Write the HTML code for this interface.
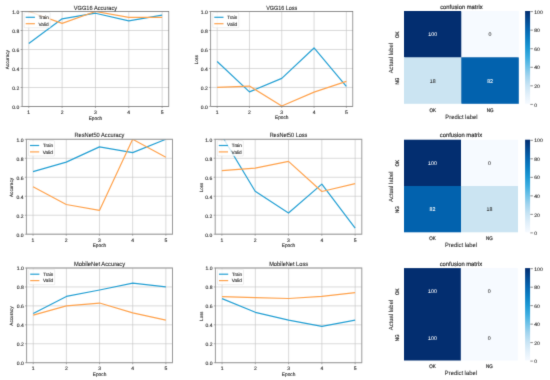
<!DOCTYPE html>
<html><head><meta charset="utf-8"><style>
html,body{margin:0;padding:0;background:#fff;}
body{width:550px;height:380px;overflow:hidden;}
svg{display:block;text-rendering:geometricPrecision;font-family:"Liberation Sans",sans-serif;}
</style></head><body>
<svg width="550" height="380" viewBox="0 0 550 380">
<defs><linearGradient id="bluesg" x1="0" y1="1" x2="0" y2="0"><stop offset="0" stop-color="#f6faff"/><stop offset="0.1" stop-color="#e2f0fa"/><stop offset="0.2" stop-color="#c8e4f4"/><stop offset="0.3" stop-color="#a2d4ee"/><stop offset="0.4" stop-color="#6ec2e8"/><stop offset="0.5" stop-color="#3cade0"/><stop offset="0.6" stop-color="#1b98d4"/><stop offset="0.7" stop-color="#0a7fc4"/><stop offset="0.8" stop-color="#0465b0"/><stop offset="0.9" stop-color="#034a92"/><stop offset="1" stop-color="#032e70"/></linearGradient><filter id="soft" x="0" y="0" width="550" height="380" filterUnits="userSpaceOnUse" primitiveUnits="userSpaceOnUse" color-interpolation-filters="sRGB"><feConvolveMatrix order="3" kernelMatrix="0.0113 0.0838 0.0113 0.0838 0.6193 0.0838 0.0113 0.0838 0.0113" divisor="1" edgeMode="duplicate" preserveAlpha="true"/></filter></defs>
<g filter="url(#soft)">
<rect width="550" height="380" fill="#fff"/>
<clipPath id="c22_11"><rect x="22.10" y="11.50" width="146.70" height="95.00"/></clipPath>
<line x1="28.77" y1="11.50" x2="28.77" y2="106.50" stroke="#c6c6c6" stroke-width="0.65"/>
<line x1="62.11" y1="11.50" x2="62.11" y2="106.50" stroke="#c6c6c6" stroke-width="0.65"/>
<line x1="95.45" y1="11.50" x2="95.45" y2="106.50" stroke="#c6c6c6" stroke-width="0.65"/>
<line x1="128.79" y1="11.50" x2="128.79" y2="106.50" stroke="#c6c6c6" stroke-width="0.65"/>
<line x1="162.13" y1="11.50" x2="162.13" y2="106.50" stroke="#c6c6c6" stroke-width="0.65"/>
<line x1="22.10" y1="106.50" x2="168.80" y2="106.50" stroke="#c6c6c6" stroke-width="0.65"/>
<line x1="22.10" y1="87.50" x2="168.80" y2="87.50" stroke="#c6c6c6" stroke-width="0.65"/>
<line x1="22.10" y1="68.50" x2="168.80" y2="68.50" stroke="#c6c6c6" stroke-width="0.65"/>
<line x1="22.10" y1="49.50" x2="168.80" y2="49.50" stroke="#c6c6c6" stroke-width="0.65"/>
<line x1="22.10" y1="30.50" x2="168.80" y2="30.50" stroke="#c6c6c6" stroke-width="0.65"/>
<line x1="22.10" y1="11.50" x2="168.80" y2="11.50" stroke="#c6c6c6" stroke-width="0.65"/>
<polyline points="28.77,43.51 62.11,18.81 95.45,13.21 128.79,20.81 162.13,15.20" fill="none" stroke="#24a0d4" stroke-width="1.2" stroke-linejoin="round" stroke-linecap="butt" clip-path="url(#c22_11)"/>
<polyline points="28.77,11.50 62.11,23.38 95.45,11.50 128.79,17.44 162.13,17.44" fill="none" stroke="#ffa24c" stroke-width="1.2" stroke-linejoin="round" stroke-linecap="butt" clip-path="url(#c22_11)"/>
<rect x="22.10" y="11.50" width="146.70" height="95.00" fill="none" stroke="#707070" stroke-width="0.70"/>
<line x1="28.77" y1="106.50" x2="28.77" y2="108.10" stroke="#777777" stroke-width="0.60"/>
<text x="28.77" y="113.90" font-size="5.02" text-anchor="middle" textLength="2.80" lengthAdjust="spacingAndGlyphs" fill="#2a2a2a" stroke="#2a2a2a" stroke-width="0.12">1</text>
<line x1="62.11" y1="106.50" x2="62.11" y2="108.10" stroke="#777777" stroke-width="0.60"/>
<text x="62.11" y="113.90" font-size="5.02" text-anchor="middle" textLength="2.80" lengthAdjust="spacingAndGlyphs" fill="#2a2a2a" stroke="#2a2a2a" stroke-width="0.12">2</text>
<line x1="95.45" y1="106.50" x2="95.45" y2="108.10" stroke="#777777" stroke-width="0.60"/>
<text x="95.45" y="113.90" font-size="5.02" text-anchor="middle" textLength="2.80" lengthAdjust="spacingAndGlyphs" fill="#2a2a2a" stroke="#2a2a2a" stroke-width="0.12">3</text>
<line x1="128.79" y1="106.50" x2="128.79" y2="108.10" stroke="#777777" stroke-width="0.60"/>
<text x="128.79" y="113.90" font-size="5.02" text-anchor="middle" textLength="2.80" lengthAdjust="spacingAndGlyphs" fill="#2a2a2a" stroke="#2a2a2a" stroke-width="0.12">4</text>
<line x1="162.13" y1="106.50" x2="162.13" y2="108.10" stroke="#777777" stroke-width="0.60"/>
<text x="162.13" y="113.90" font-size="5.02" text-anchor="middle" textLength="2.80" lengthAdjust="spacingAndGlyphs" fill="#2a2a2a" stroke="#2a2a2a" stroke-width="0.12">5</text>
<line x1="20.50" y1="106.50" x2="22.10" y2="106.50" stroke="#777777" stroke-width="0.60"/>
<text x="19.20" y="108.80" font-size="5.02" text-anchor="end" textLength="7.00" lengthAdjust="spacingAndGlyphs" fill="#2a2a2a" stroke="#2a2a2a" stroke-width="0.12">0.0</text>
<line x1="20.50" y1="87.50" x2="22.10" y2="87.50" stroke="#777777" stroke-width="0.60"/>
<text x="19.20" y="89.80" font-size="5.02" text-anchor="end" textLength="7.00" lengthAdjust="spacingAndGlyphs" fill="#2a2a2a" stroke="#2a2a2a" stroke-width="0.12">0.2</text>
<line x1="20.50" y1="68.50" x2="22.10" y2="68.50" stroke="#777777" stroke-width="0.60"/>
<text x="19.20" y="70.80" font-size="5.02" text-anchor="end" textLength="7.00" lengthAdjust="spacingAndGlyphs" fill="#2a2a2a" stroke="#2a2a2a" stroke-width="0.12">0.4</text>
<line x1="20.50" y1="49.50" x2="22.10" y2="49.50" stroke="#777777" stroke-width="0.60"/>
<text x="19.20" y="51.80" font-size="5.02" text-anchor="end" textLength="7.00" lengthAdjust="spacingAndGlyphs" fill="#2a2a2a" stroke="#2a2a2a" stroke-width="0.12">0.6</text>
<line x1="20.50" y1="30.50" x2="22.10" y2="30.50" stroke="#777777" stroke-width="0.60"/>
<text x="19.20" y="32.80" font-size="5.02" text-anchor="end" textLength="7.00" lengthAdjust="spacingAndGlyphs" fill="#2a2a2a" stroke="#2a2a2a" stroke-width="0.12">0.8</text>
<line x1="20.50" y1="11.50" x2="22.10" y2="11.50" stroke="#777777" stroke-width="0.60"/>
<text x="19.20" y="13.80" font-size="5.02" text-anchor="end" textLength="7.00" lengthAdjust="spacingAndGlyphs" fill="#2a2a2a" stroke="#2a2a2a" stroke-width="0.12">1.0</text>
<text x="95.45" y="9.60" font-size="6.08" text-anchor="middle" textLength="43.21" lengthAdjust="spacingAndGlyphs" fill="#2a2a2a" stroke="#2a2a2a" stroke-width="0.11">VGG16 Accuracy</text>
<text x="95.45" y="119.50" font-size="5.02" text-anchor="middle" textLength="13.47" lengthAdjust="spacingAndGlyphs" fill="#2a2a2a" stroke="#2a2a2a" stroke-width="0.12">Epoch</text>
<text x="8.60" y="59.70" font-size="4.79" text-anchor="middle" textLength="19.17" lengthAdjust="spacingAndGlyphs" fill="#2a2a2a" stroke="#2a2a2a" stroke-width="0.12" transform="rotate(-90 8.60 59.70)">Accuracy</text>
<rect x="24.20" y="12.50" width="26.00" height="15.30" rx="0.8" fill="#ffffff" fill-opacity="0.8" stroke="#dcdcdc" stroke-width="0.5"/>
<line x1="25.70" y1="17.30" x2="34.90" y2="17.30" stroke="#24a0d4" stroke-width="1.20"/>
<line x1="25.70" y1="23.70" x2="34.90" y2="23.70" stroke="#ffa24c" stroke-width="1.20"/>
<text x="38.70" y="19.10" font-size="4.79" text-anchor="start" textLength="10.08" lengthAdjust="spacingAndGlyphs" fill="#2a2a2a" stroke="#2a2a2a" stroke-width="0.12">Train</text>
<text x="38.50" y="25.50" font-size="4.79" text-anchor="start" textLength="10.12" lengthAdjust="spacingAndGlyphs" fill="#2a2a2a" stroke="#2a2a2a" stroke-width="0.12">Valid</text>
<clipPath id="c210_11"><rect x="210.70" y="11.50" width="142.10" height="94.90"/></clipPath>
<line x1="217.16" y1="11.50" x2="217.16" y2="106.40" stroke="#c6c6c6" stroke-width="0.65"/>
<line x1="249.45" y1="11.50" x2="249.45" y2="106.40" stroke="#c6c6c6" stroke-width="0.65"/>
<line x1="281.75" y1="11.50" x2="281.75" y2="106.40" stroke="#c6c6c6" stroke-width="0.65"/>
<line x1="314.05" y1="11.50" x2="314.05" y2="106.40" stroke="#c6c6c6" stroke-width="0.65"/>
<line x1="346.34" y1="11.50" x2="346.34" y2="106.40" stroke="#c6c6c6" stroke-width="0.65"/>
<line x1="210.70" y1="106.40" x2="352.80" y2="106.40" stroke="#c6c6c6" stroke-width="0.65"/>
<line x1="210.70" y1="87.42" x2="352.80" y2="87.42" stroke="#c6c6c6" stroke-width="0.65"/>
<line x1="210.70" y1="68.44" x2="352.80" y2="68.44" stroke="#c6c6c6" stroke-width="0.65"/>
<line x1="210.70" y1="49.46" x2="352.80" y2="49.46" stroke="#c6c6c6" stroke-width="0.65"/>
<line x1="210.70" y1="30.48" x2="352.80" y2="30.48" stroke="#c6c6c6" stroke-width="0.65"/>
<line x1="210.70" y1="11.50" x2="352.80" y2="11.50" stroke="#c6c6c6" stroke-width="0.65"/>
<polyline points="217.16,61.51 249.45,91.88 281.75,78.40 314.05,47.94 346.34,86.47" fill="none" stroke="#24a0d4" stroke-width="1.2" stroke-linejoin="round" stroke-linecap="butt" clip-path="url(#c210_11)"/>
<polyline points="217.16,87.42 249.45,86.09 281.75,106.02 314.05,92.17 346.34,81.44" fill="none" stroke="#ffa24c" stroke-width="1.2" stroke-linejoin="round" stroke-linecap="butt" clip-path="url(#c210_11)"/>
<rect x="210.70" y="11.50" width="142.10" height="94.90" fill="none" stroke="#707070" stroke-width="0.70"/>
<line x1="217.16" y1="106.40" x2="217.16" y2="108.00" stroke="#777777" stroke-width="0.60"/>
<text x="217.16" y="113.80" font-size="5.02" text-anchor="middle" textLength="2.80" lengthAdjust="spacingAndGlyphs" fill="#2a2a2a" stroke="#2a2a2a" stroke-width="0.12">1</text>
<line x1="249.45" y1="106.40" x2="249.45" y2="108.00" stroke="#777777" stroke-width="0.60"/>
<text x="249.45" y="113.80" font-size="5.02" text-anchor="middle" textLength="2.80" lengthAdjust="spacingAndGlyphs" fill="#2a2a2a" stroke="#2a2a2a" stroke-width="0.12">2</text>
<line x1="281.75" y1="106.40" x2="281.75" y2="108.00" stroke="#777777" stroke-width="0.60"/>
<text x="281.75" y="113.80" font-size="5.02" text-anchor="middle" textLength="2.80" lengthAdjust="spacingAndGlyphs" fill="#2a2a2a" stroke="#2a2a2a" stroke-width="0.12">3</text>
<line x1="314.05" y1="106.40" x2="314.05" y2="108.00" stroke="#777777" stroke-width="0.60"/>
<text x="314.05" y="113.80" font-size="5.02" text-anchor="middle" textLength="2.80" lengthAdjust="spacingAndGlyphs" fill="#2a2a2a" stroke="#2a2a2a" stroke-width="0.12">4</text>
<line x1="346.34" y1="106.40" x2="346.34" y2="108.00" stroke="#777777" stroke-width="0.60"/>
<text x="346.34" y="113.80" font-size="5.02" text-anchor="middle" textLength="2.80" lengthAdjust="spacingAndGlyphs" fill="#2a2a2a" stroke="#2a2a2a" stroke-width="0.12">5</text>
<line x1="209.10" y1="106.40" x2="210.70" y2="106.40" stroke="#777777" stroke-width="0.60"/>
<text x="207.80" y="108.70" font-size="5.02" text-anchor="end" textLength="7.00" lengthAdjust="spacingAndGlyphs" fill="#2a2a2a" stroke="#2a2a2a" stroke-width="0.12">0.0</text>
<line x1="209.10" y1="87.42" x2="210.70" y2="87.42" stroke="#777777" stroke-width="0.60"/>
<text x="207.80" y="89.72" font-size="5.02" text-anchor="end" textLength="7.00" lengthAdjust="spacingAndGlyphs" fill="#2a2a2a" stroke="#2a2a2a" stroke-width="0.12">0.2</text>
<line x1="209.10" y1="68.44" x2="210.70" y2="68.44" stroke="#777777" stroke-width="0.60"/>
<text x="207.80" y="70.74" font-size="5.02" text-anchor="end" textLength="7.00" lengthAdjust="spacingAndGlyphs" fill="#2a2a2a" stroke="#2a2a2a" stroke-width="0.12">0.4</text>
<line x1="209.10" y1="49.46" x2="210.70" y2="49.46" stroke="#777777" stroke-width="0.60"/>
<text x="207.80" y="51.76" font-size="5.02" text-anchor="end" textLength="7.00" lengthAdjust="spacingAndGlyphs" fill="#2a2a2a" stroke="#2a2a2a" stroke-width="0.12">0.6</text>
<line x1="209.10" y1="30.48" x2="210.70" y2="30.48" stroke="#777777" stroke-width="0.60"/>
<text x="207.80" y="32.78" font-size="5.02" text-anchor="end" textLength="7.00" lengthAdjust="spacingAndGlyphs" fill="#2a2a2a" stroke="#2a2a2a" stroke-width="0.12">0.8</text>
<line x1="209.10" y1="11.50" x2="210.70" y2="11.50" stroke="#777777" stroke-width="0.60"/>
<text x="207.80" y="13.80" font-size="5.02" text-anchor="end" textLength="7.00" lengthAdjust="spacingAndGlyphs" fill="#2a2a2a" stroke="#2a2a2a" stroke-width="0.12">1.0</text>
<text x="281.75" y="9.60" font-size="6.08" text-anchor="middle" textLength="30.99" lengthAdjust="spacingAndGlyphs" fill="#2a2a2a" stroke="#2a2a2a" stroke-width="0.11">VGG16 Loss</text>
<text x="281.75" y="119.40" font-size="5.02" text-anchor="middle" textLength="13.47" lengthAdjust="spacingAndGlyphs" fill="#2a2a2a" stroke="#2a2a2a" stroke-width="0.12">Epoch</text>
<text x="198.20" y="59.65" font-size="4.79" text-anchor="middle" textLength="9.21" lengthAdjust="spacingAndGlyphs" fill="#2a2a2a" stroke="#2a2a2a" stroke-width="0.12" transform="rotate(-90 198.20 59.65)">Loss</text>
<rect x="212.80" y="12.50" width="26.00" height="15.30" rx="0.8" fill="#ffffff" fill-opacity="0.8" stroke="#dcdcdc" stroke-width="0.5"/>
<line x1="214.30" y1="17.30" x2="223.50" y2="17.30" stroke="#24a0d4" stroke-width="1.20"/>
<line x1="214.30" y1="23.70" x2="223.50" y2="23.70" stroke="#ffa24c" stroke-width="1.20"/>
<text x="227.30" y="19.10" font-size="4.79" text-anchor="start" textLength="10.08" lengthAdjust="spacingAndGlyphs" fill="#2a2a2a" stroke="#2a2a2a" stroke-width="0.12">Train</text>
<text x="227.10" y="25.50" font-size="4.79" text-anchor="start" textLength="10.12" lengthAdjust="spacingAndGlyphs" fill="#2a2a2a" stroke="#2a2a2a" stroke-width="0.12">Valid</text>
<rect x="405.00" y="12.00" width="112.80" height="90.80" fill="#7f9cc0"/>
<rect x="404.00" y="11.00" width="57.40" height="46.40" fill="#032e70"/>
<rect x="461.40" y="11.00" width="57.40" height="46.40" fill="#f6faff"/>
<rect x="404.00" y="57.40" width="57.40" height="46.40" fill="#cbe4f2"/>
<rect x="461.40" y="57.40" width="57.40" height="46.40" fill="#0262ae"/>
<text x="432.70" y="36.40" font-size="5.24" text-anchor="middle" textLength="8.78" lengthAdjust="spacingAndGlyphs" fill="#ffffff" stroke="#ffffff" stroke-width="0.05">100</text>
<text x="490.10" y="36.40" font-size="5.24" text-anchor="middle" textLength="2.93" lengthAdjust="spacingAndGlyphs" fill="#262626" stroke="#262626" stroke-width="0.05">0</text>
<text x="432.70" y="82.80" font-size="5.24" text-anchor="middle" textLength="5.85" lengthAdjust="spacingAndGlyphs" fill="#262626" stroke="#262626" stroke-width="0.05">18</text>
<text x="490.10" y="82.80" font-size="5.24" text-anchor="middle" textLength="5.85" lengthAdjust="spacingAndGlyphs" fill="#ffffff" stroke="#ffffff" stroke-width="0.05">82</text>
<text x="461.40" y="8.65" font-size="5.96" text-anchor="middle" textLength="42.44" lengthAdjust="spacingAndGlyphs" fill="#2a2a2a" stroke="#2a2a2a" stroke-width="0.16">confusion matrix</text>
<text x="432.70" y="111.60" font-size="5.13" text-anchor="middle" textLength="6.49" lengthAdjust="spacingAndGlyphs" fill="#2a2a2a" stroke="#2a2a2a" stroke-width="0.20">OK</text>
<text x="490.10" y="111.60" font-size="5.13" text-anchor="middle" textLength="6.85" lengthAdjust="spacingAndGlyphs" fill="#2a2a2a" stroke="#2a2a2a" stroke-width="0.20">NG</text>
<text x="461.40" y="118.60" font-size="6.03" text-anchor="middle" textLength="32.14" lengthAdjust="spacingAndGlyphs" fill="#2a2a2a" stroke="#2a2a2a" stroke-width="0.08">Predict label</text>
<text x="398.80" y="34.70" font-size="5.13" text-anchor="middle" textLength="6.49" lengthAdjust="spacingAndGlyphs" fill="#2a2a2a" stroke="#2a2a2a" stroke-width="0.20" transform="rotate(-90 398.80 34.70)">OK</text>
<text x="398.80" y="81.10" font-size="5.13" text-anchor="middle" textLength="6.85" lengthAdjust="spacingAndGlyphs" fill="#2a2a2a" stroke="#2a2a2a" stroke-width="0.20" transform="rotate(-90 398.80 81.10)">NG</text>
<text x="392.80" y="58.10" font-size="6.03" text-anchor="middle" textLength="30.52" lengthAdjust="spacingAndGlyphs" fill="#2a2a2a" stroke="#2a2a2a" stroke-width="0.06" transform="rotate(-90 392.80 58.10)">Actual label</text>
<rect x="525.10" y="11.00" width="5.00" height="92.80" fill="url(#bluesg)"/>
<line x1="530.30" y1="104.40" x2="532.90" y2="104.40" stroke="#444444" stroke-width="0.60"/>
<text x="534.30" y="106.55" font-size="5.07" text-anchor="start" textLength="2.83" lengthAdjust="spacingAndGlyphs" fill="#2a2a2a" stroke="#2a2a2a" stroke-width="0.10">0</text>
<line x1="530.30" y1="85.84" x2="532.90" y2="85.84" stroke="#444444" stroke-width="0.60"/>
<text x="534.30" y="87.99" font-size="5.07" text-anchor="start" textLength="5.66" lengthAdjust="spacingAndGlyphs" fill="#2a2a2a" stroke="#2a2a2a" stroke-width="0.10">20</text>
<line x1="530.30" y1="67.28" x2="532.90" y2="67.28" stroke="#444444" stroke-width="0.60"/>
<text x="534.30" y="69.43" font-size="5.07" text-anchor="start" textLength="5.66" lengthAdjust="spacingAndGlyphs" fill="#2a2a2a" stroke="#2a2a2a" stroke-width="0.10">40</text>
<line x1="530.30" y1="48.72" x2="532.90" y2="48.72" stroke="#444444" stroke-width="0.60"/>
<text x="534.30" y="50.87" font-size="5.07" text-anchor="start" textLength="5.66" lengthAdjust="spacingAndGlyphs" fill="#2a2a2a" stroke="#2a2a2a" stroke-width="0.10">60</text>
<line x1="530.30" y1="30.16" x2="532.90" y2="30.16" stroke="#444444" stroke-width="0.60"/>
<text x="534.30" y="32.31" font-size="5.07" text-anchor="start" textLength="5.66" lengthAdjust="spacingAndGlyphs" fill="#2a2a2a" stroke="#2a2a2a" stroke-width="0.10">80</text>
<line x1="530.30" y1="11.60" x2="532.90" y2="11.60" stroke="#444444" stroke-width="0.60"/>
<text x="534.30" y="13.75" font-size="5.07" text-anchor="start" textLength="8.49" lengthAdjust="spacingAndGlyphs" fill="#2a2a2a" stroke="#2a2a2a" stroke-width="0.10">100</text>
<clipPath id="c26_139"><rect x="26.40" y="139.30" width="146.10" height="94.90"/></clipPath>
<line x1="33.04" y1="139.30" x2="33.04" y2="234.20" stroke="#c6c6c6" stroke-width="0.65"/>
<line x1="66.25" y1="139.30" x2="66.25" y2="234.20" stroke="#c6c6c6" stroke-width="0.65"/>
<line x1="99.45" y1="139.30" x2="99.45" y2="234.20" stroke="#c6c6c6" stroke-width="0.65"/>
<line x1="132.65" y1="139.30" x2="132.65" y2="234.20" stroke="#c6c6c6" stroke-width="0.65"/>
<line x1="165.86" y1="139.30" x2="165.86" y2="234.20" stroke="#c6c6c6" stroke-width="0.65"/>
<line x1="26.40" y1="234.20" x2="172.50" y2="234.20" stroke="#c6c6c6" stroke-width="0.65"/>
<line x1="26.40" y1="215.22" x2="172.50" y2="215.22" stroke="#c6c6c6" stroke-width="0.65"/>
<line x1="26.40" y1="196.24" x2="172.50" y2="196.24" stroke="#c6c6c6" stroke-width="0.65"/>
<line x1="26.40" y1="177.26" x2="172.50" y2="177.26" stroke="#c6c6c6" stroke-width="0.65"/>
<line x1="26.40" y1="158.28" x2="172.50" y2="158.28" stroke="#c6c6c6" stroke-width="0.65"/>
<line x1="26.40" y1="139.30" x2="172.50" y2="139.30" stroke="#c6c6c6" stroke-width="0.65"/>
<polyline points="33.04,171.57 66.25,162.17 99.45,146.89 132.65,152.59 165.86,139.30" fill="none" stroke="#24a0d4" stroke-width="1.2" stroke-linejoin="round" stroke-linecap="butt" clip-path="url(#c26_139)"/>
<polyline points="33.04,186.75 66.25,204.50 99.45,210.38 132.65,139.30 165.86,157.33" fill="none" stroke="#ffa24c" stroke-width="1.2" stroke-linejoin="round" stroke-linecap="butt" clip-path="url(#c26_139)"/>
<rect x="26.40" y="139.30" width="146.10" height="94.90" fill="none" stroke="#9a9a9a" stroke-width="1.00"/>
<line x1="33.04" y1="234.20" x2="33.04" y2="235.80" stroke="#777777" stroke-width="0.60"/>
<text x="33.04" y="241.60" font-size="5.02" text-anchor="middle" textLength="2.80" lengthAdjust="spacingAndGlyphs" fill="#2a2a2a" stroke="#2a2a2a" stroke-width="0.12">1</text>
<line x1="66.25" y1="234.20" x2="66.25" y2="235.80" stroke="#777777" stroke-width="0.60"/>
<text x="66.25" y="241.60" font-size="5.02" text-anchor="middle" textLength="2.80" lengthAdjust="spacingAndGlyphs" fill="#2a2a2a" stroke="#2a2a2a" stroke-width="0.12">2</text>
<line x1="99.45" y1="234.20" x2="99.45" y2="235.80" stroke="#777777" stroke-width="0.60"/>
<text x="99.45" y="241.60" font-size="5.02" text-anchor="middle" textLength="2.80" lengthAdjust="spacingAndGlyphs" fill="#2a2a2a" stroke="#2a2a2a" stroke-width="0.12">3</text>
<line x1="132.65" y1="234.20" x2="132.65" y2="235.80" stroke="#777777" stroke-width="0.60"/>
<text x="132.65" y="241.60" font-size="5.02" text-anchor="middle" textLength="2.80" lengthAdjust="spacingAndGlyphs" fill="#2a2a2a" stroke="#2a2a2a" stroke-width="0.12">4</text>
<line x1="165.86" y1="234.20" x2="165.86" y2="235.80" stroke="#777777" stroke-width="0.60"/>
<text x="165.86" y="241.60" font-size="5.02" text-anchor="middle" textLength="2.80" lengthAdjust="spacingAndGlyphs" fill="#2a2a2a" stroke="#2a2a2a" stroke-width="0.12">5</text>
<line x1="24.80" y1="234.20" x2="26.40" y2="234.20" stroke="#777777" stroke-width="0.60"/>
<text x="23.50" y="236.50" font-size="5.02" text-anchor="end" textLength="7.00" lengthAdjust="spacingAndGlyphs" fill="#2a2a2a" stroke="#2a2a2a" stroke-width="0.12">0.0</text>
<line x1="24.80" y1="215.22" x2="26.40" y2="215.22" stroke="#777777" stroke-width="0.60"/>
<text x="23.50" y="217.52" font-size="5.02" text-anchor="end" textLength="7.00" lengthAdjust="spacingAndGlyphs" fill="#2a2a2a" stroke="#2a2a2a" stroke-width="0.12">0.2</text>
<line x1="24.80" y1="196.24" x2="26.40" y2="196.24" stroke="#777777" stroke-width="0.60"/>
<text x="23.50" y="198.54" font-size="5.02" text-anchor="end" textLength="7.00" lengthAdjust="spacingAndGlyphs" fill="#2a2a2a" stroke="#2a2a2a" stroke-width="0.12">0.4</text>
<line x1="24.80" y1="177.26" x2="26.40" y2="177.26" stroke="#777777" stroke-width="0.60"/>
<text x="23.50" y="179.56" font-size="5.02" text-anchor="end" textLength="7.00" lengthAdjust="spacingAndGlyphs" fill="#2a2a2a" stroke="#2a2a2a" stroke-width="0.12">0.6</text>
<line x1="24.80" y1="158.28" x2="26.40" y2="158.28" stroke="#777777" stroke-width="0.60"/>
<text x="23.50" y="160.58" font-size="5.02" text-anchor="end" textLength="7.00" lengthAdjust="spacingAndGlyphs" fill="#2a2a2a" stroke="#2a2a2a" stroke-width="0.12">0.8</text>
<line x1="24.80" y1="139.30" x2="26.40" y2="139.30" stroke="#777777" stroke-width="0.60"/>
<text x="23.50" y="141.60" font-size="5.02" text-anchor="end" textLength="7.00" lengthAdjust="spacingAndGlyphs" fill="#2a2a2a" stroke="#2a2a2a" stroke-width="0.12">1.0</text>
<text x="99.45" y="137.40" font-size="6.08" text-anchor="middle" textLength="49.94" lengthAdjust="spacingAndGlyphs" fill="#2a2a2a" stroke="#2a2a2a" stroke-width="0.11">ResNet50 Accuracy</text>
<text x="99.45" y="247.20" font-size="5.02" text-anchor="middle" textLength="13.47" lengthAdjust="spacingAndGlyphs" fill="#2a2a2a" stroke="#2a2a2a" stroke-width="0.12">Epoch</text>
<text x="12.90" y="187.45" font-size="4.79" text-anchor="middle" textLength="19.17" lengthAdjust="spacingAndGlyphs" fill="#2a2a2a" stroke="#2a2a2a" stroke-width="0.12" transform="rotate(-90 12.90 187.45)">Accuracy</text>
<rect x="28.50" y="140.70" width="26.00" height="15.30" rx="0.8" fill="#ffffff" fill-opacity="0.8" stroke="#dcdcdc" stroke-width="0.5"/>
<line x1="30.00" y1="145.50" x2="39.20" y2="145.50" stroke="#24a0d4" stroke-width="1.20"/>
<line x1="30.00" y1="151.90" x2="39.20" y2="151.90" stroke="#ffa24c" stroke-width="1.20"/>
<text x="43.00" y="147.30" font-size="4.79" text-anchor="start" textLength="10.08" lengthAdjust="spacingAndGlyphs" fill="#2a2a2a" stroke="#2a2a2a" stroke-width="0.12">Train</text>
<text x="42.80" y="153.70" font-size="4.79" text-anchor="start" textLength="10.12" lengthAdjust="spacingAndGlyphs" fill="#2a2a2a" stroke="#2a2a2a" stroke-width="0.12">Valid</text>
<clipPath id="c215_139"><rect x="215.20" y="139.30" width="146.60" height="94.90"/></clipPath>
<line x1="221.86" y1="139.30" x2="221.86" y2="234.20" stroke="#c6c6c6" stroke-width="0.65"/>
<line x1="255.18" y1="139.30" x2="255.18" y2="234.20" stroke="#c6c6c6" stroke-width="0.65"/>
<line x1="288.50" y1="139.30" x2="288.50" y2="234.20" stroke="#c6c6c6" stroke-width="0.65"/>
<line x1="321.82" y1="139.30" x2="321.82" y2="234.20" stroke="#c6c6c6" stroke-width="0.65"/>
<line x1="355.14" y1="139.30" x2="355.14" y2="234.20" stroke="#c6c6c6" stroke-width="0.65"/>
<line x1="215.20" y1="234.20" x2="361.80" y2="234.20" stroke="#c6c6c6" stroke-width="0.65"/>
<line x1="215.20" y1="215.22" x2="361.80" y2="215.22" stroke="#c6c6c6" stroke-width="0.65"/>
<line x1="215.20" y1="196.24" x2="361.80" y2="196.24" stroke="#c6c6c6" stroke-width="0.65"/>
<line x1="215.20" y1="177.26" x2="361.80" y2="177.26" stroke="#c6c6c6" stroke-width="0.65"/>
<line x1="215.20" y1="158.28" x2="361.80" y2="158.28" stroke="#c6c6c6" stroke-width="0.65"/>
<line x1="215.20" y1="139.30" x2="361.80" y2="139.30" stroke="#c6c6c6" stroke-width="0.65"/>
<polyline points="221.86,135.79 255.18,191.21 288.50,213.04 321.82,184.09 355.14,228.13" fill="none" stroke="#24a0d4" stroke-width="1.2" stroke-linejoin="round" stroke-linecap="butt" clip-path="url(#c215_139)"/>
<polyline points="221.86,170.71 255.18,168.15 288.50,161.32 321.82,191.50 355.14,183.62" fill="none" stroke="#ffa24c" stroke-width="1.2" stroke-linejoin="round" stroke-linecap="butt" clip-path="url(#c215_139)"/>
<rect x="215.20" y="139.30" width="146.60" height="94.90" fill="none" stroke="#9a9a9a" stroke-width="1.00"/>
<line x1="221.86" y1="234.20" x2="221.86" y2="235.80" stroke="#777777" stroke-width="0.60"/>
<text x="221.86" y="241.60" font-size="5.02" text-anchor="middle" textLength="2.80" lengthAdjust="spacingAndGlyphs" fill="#2a2a2a" stroke="#2a2a2a" stroke-width="0.12">1</text>
<line x1="255.18" y1="234.20" x2="255.18" y2="235.80" stroke="#777777" stroke-width="0.60"/>
<text x="255.18" y="241.60" font-size="5.02" text-anchor="middle" textLength="2.80" lengthAdjust="spacingAndGlyphs" fill="#2a2a2a" stroke="#2a2a2a" stroke-width="0.12">2</text>
<line x1="288.50" y1="234.20" x2="288.50" y2="235.80" stroke="#777777" stroke-width="0.60"/>
<text x="288.50" y="241.60" font-size="5.02" text-anchor="middle" textLength="2.80" lengthAdjust="spacingAndGlyphs" fill="#2a2a2a" stroke="#2a2a2a" stroke-width="0.12">3</text>
<line x1="321.82" y1="234.20" x2="321.82" y2="235.80" stroke="#777777" stroke-width="0.60"/>
<text x="321.82" y="241.60" font-size="5.02" text-anchor="middle" textLength="2.80" lengthAdjust="spacingAndGlyphs" fill="#2a2a2a" stroke="#2a2a2a" stroke-width="0.12">4</text>
<line x1="355.14" y1="234.20" x2="355.14" y2="235.80" stroke="#777777" stroke-width="0.60"/>
<text x="355.14" y="241.60" font-size="5.02" text-anchor="middle" textLength="2.80" lengthAdjust="spacingAndGlyphs" fill="#2a2a2a" stroke="#2a2a2a" stroke-width="0.12">5</text>
<line x1="213.60" y1="234.20" x2="215.20" y2="234.20" stroke="#777777" stroke-width="0.60"/>
<text x="212.30" y="236.50" font-size="5.02" text-anchor="end" textLength="7.00" lengthAdjust="spacingAndGlyphs" fill="#2a2a2a" stroke="#2a2a2a" stroke-width="0.12">0.0</text>
<line x1="213.60" y1="215.22" x2="215.20" y2="215.22" stroke="#777777" stroke-width="0.60"/>
<text x="212.30" y="217.52" font-size="5.02" text-anchor="end" textLength="7.00" lengthAdjust="spacingAndGlyphs" fill="#2a2a2a" stroke="#2a2a2a" stroke-width="0.12">0.2</text>
<line x1="213.60" y1="196.24" x2="215.20" y2="196.24" stroke="#777777" stroke-width="0.60"/>
<text x="212.30" y="198.54" font-size="5.02" text-anchor="end" textLength="7.00" lengthAdjust="spacingAndGlyphs" fill="#2a2a2a" stroke="#2a2a2a" stroke-width="0.12">0.4</text>
<line x1="213.60" y1="177.26" x2="215.20" y2="177.26" stroke="#777777" stroke-width="0.60"/>
<text x="212.30" y="179.56" font-size="5.02" text-anchor="end" textLength="7.00" lengthAdjust="spacingAndGlyphs" fill="#2a2a2a" stroke="#2a2a2a" stroke-width="0.12">0.6</text>
<line x1="213.60" y1="158.28" x2="215.20" y2="158.28" stroke="#777777" stroke-width="0.60"/>
<text x="212.30" y="160.58" font-size="5.02" text-anchor="end" textLength="7.00" lengthAdjust="spacingAndGlyphs" fill="#2a2a2a" stroke="#2a2a2a" stroke-width="0.12">0.8</text>
<line x1="213.60" y1="139.30" x2="215.20" y2="139.30" stroke="#777777" stroke-width="0.60"/>
<text x="212.30" y="141.60" font-size="5.02" text-anchor="end" textLength="7.00" lengthAdjust="spacingAndGlyphs" fill="#2a2a2a" stroke="#2a2a2a" stroke-width="0.12">1.0</text>
<text x="288.50" y="137.40" font-size="6.08" text-anchor="middle" textLength="37.72" lengthAdjust="spacingAndGlyphs" fill="#2a2a2a" stroke="#2a2a2a" stroke-width="0.11">ResNet50 Loss</text>
<text x="288.50" y="247.20" font-size="5.02" text-anchor="middle" textLength="13.47" lengthAdjust="spacingAndGlyphs" fill="#2a2a2a" stroke="#2a2a2a" stroke-width="0.12">Epoch</text>
<text x="202.70" y="187.45" font-size="4.79" text-anchor="middle" textLength="9.21" lengthAdjust="spacingAndGlyphs" fill="#2a2a2a" stroke="#2a2a2a" stroke-width="0.12" transform="rotate(-90 202.70 187.45)">Loss</text>
<rect x="217.30" y="140.70" width="26.00" height="15.30" rx="0.8" fill="#ffffff" fill-opacity="0.8" stroke="#dcdcdc" stroke-width="0.5"/>
<line x1="218.80" y1="145.50" x2="228.00" y2="145.50" stroke="#24a0d4" stroke-width="1.20"/>
<line x1="218.80" y1="151.90" x2="228.00" y2="151.90" stroke="#ffa24c" stroke-width="1.20"/>
<text x="231.80" y="147.30" font-size="4.79" text-anchor="start" textLength="10.08" lengthAdjust="spacingAndGlyphs" fill="#2a2a2a" stroke="#2a2a2a" stroke-width="0.12">Train</text>
<text x="231.60" y="153.70" font-size="4.79" text-anchor="start" textLength="10.12" lengthAdjust="spacingAndGlyphs" fill="#2a2a2a" stroke="#2a2a2a" stroke-width="0.12">Valid</text>
<rect x="405.00" y="140.70" width="112.00" height="90.60" fill="#7f9cc0"/>
<rect x="404.00" y="139.70" width="57.00" height="46.30" fill="#032e70"/>
<rect x="461.00" y="139.70" width="57.00" height="46.30" fill="#f6faff"/>
<rect x="404.00" y="186.00" width="57.00" height="46.30" fill="#0262ae"/>
<rect x="461.00" y="186.00" width="57.00" height="46.30" fill="#cbe4f2"/>
<text x="432.50" y="165.05" font-size="5.24" text-anchor="middle" textLength="8.78" lengthAdjust="spacingAndGlyphs" fill="#ffffff" stroke="#ffffff" stroke-width="0.05">100</text>
<text x="489.50" y="165.05" font-size="5.24" text-anchor="middle" textLength="2.93" lengthAdjust="spacingAndGlyphs" fill="#262626" stroke="#262626" stroke-width="0.05">0</text>
<text x="432.50" y="211.35" font-size="5.24" text-anchor="middle" textLength="5.85" lengthAdjust="spacingAndGlyphs" fill="#ffffff" stroke="#ffffff" stroke-width="0.05">82</text>
<text x="489.50" y="211.35" font-size="5.24" text-anchor="middle" textLength="5.85" lengthAdjust="spacingAndGlyphs" fill="#262626" stroke="#262626" stroke-width="0.05">18</text>
<text x="461.00" y="137.35" font-size="5.96" text-anchor="middle" textLength="42.44" lengthAdjust="spacingAndGlyphs" fill="#2a2a2a" stroke="#2a2a2a" stroke-width="0.16">confusion matrix</text>
<text x="432.50" y="240.10" font-size="5.13" text-anchor="middle" textLength="6.49" lengthAdjust="spacingAndGlyphs" fill="#2a2a2a" stroke="#2a2a2a" stroke-width="0.20">OK</text>
<text x="489.50" y="240.10" font-size="5.13" text-anchor="middle" textLength="6.85" lengthAdjust="spacingAndGlyphs" fill="#2a2a2a" stroke="#2a2a2a" stroke-width="0.20">NG</text>
<text x="461.00" y="247.10" font-size="6.03" text-anchor="middle" textLength="32.14" lengthAdjust="spacingAndGlyphs" fill="#2a2a2a" stroke="#2a2a2a" stroke-width="0.08">Predict label</text>
<text x="398.80" y="163.35" font-size="5.13" text-anchor="middle" textLength="6.49" lengthAdjust="spacingAndGlyphs" fill="#2a2a2a" stroke="#2a2a2a" stroke-width="0.20" transform="rotate(-90 398.80 163.35)">OK</text>
<text x="398.80" y="209.65" font-size="5.13" text-anchor="middle" textLength="6.85" lengthAdjust="spacingAndGlyphs" fill="#2a2a2a" stroke="#2a2a2a" stroke-width="0.20" transform="rotate(-90 398.80 209.65)">NG</text>
<text x="392.80" y="186.70" font-size="6.03" text-anchor="middle" textLength="30.52" lengthAdjust="spacingAndGlyphs" fill="#2a2a2a" stroke="#2a2a2a" stroke-width="0.06" transform="rotate(-90 392.80 186.70)">Actual label</text>
<rect x="525.10" y="139.70" width="5.00" height="92.60" fill="url(#bluesg)"/>
<line x1="530.30" y1="232.90" x2="532.90" y2="232.90" stroke="#444444" stroke-width="0.60"/>
<text x="534.30" y="235.05" font-size="5.07" text-anchor="start" textLength="2.83" lengthAdjust="spacingAndGlyphs" fill="#2a2a2a" stroke="#2a2a2a" stroke-width="0.10">0</text>
<line x1="530.30" y1="214.38" x2="532.90" y2="214.38" stroke="#444444" stroke-width="0.60"/>
<text x="534.30" y="216.53" font-size="5.07" text-anchor="start" textLength="5.66" lengthAdjust="spacingAndGlyphs" fill="#2a2a2a" stroke="#2a2a2a" stroke-width="0.10">20</text>
<line x1="530.30" y1="195.86" x2="532.90" y2="195.86" stroke="#444444" stroke-width="0.60"/>
<text x="534.30" y="198.01" font-size="5.07" text-anchor="start" textLength="5.66" lengthAdjust="spacingAndGlyphs" fill="#2a2a2a" stroke="#2a2a2a" stroke-width="0.10">40</text>
<line x1="530.30" y1="177.34" x2="532.90" y2="177.34" stroke="#444444" stroke-width="0.60"/>
<text x="534.30" y="179.49" font-size="5.07" text-anchor="start" textLength="5.66" lengthAdjust="spacingAndGlyphs" fill="#2a2a2a" stroke="#2a2a2a" stroke-width="0.10">60</text>
<line x1="530.30" y1="158.82" x2="532.90" y2="158.82" stroke="#444444" stroke-width="0.60"/>
<text x="534.30" y="160.97" font-size="5.07" text-anchor="start" textLength="5.66" lengthAdjust="spacingAndGlyphs" fill="#2a2a2a" stroke="#2a2a2a" stroke-width="0.10">80</text>
<line x1="530.30" y1="140.30" x2="532.90" y2="140.30" stroke="#444444" stroke-width="0.60"/>
<text x="534.30" y="142.45" font-size="5.07" text-anchor="start" textLength="8.49" lengthAdjust="spacingAndGlyphs" fill="#2a2a2a" stroke="#2a2a2a" stroke-width="0.10">100</text>
<clipPath id="c26_268"><rect x="26.60" y="268.00" width="145.90" height="94.70"/></clipPath>
<line x1="33.23" y1="268.00" x2="33.23" y2="362.70" stroke="#c6c6c6" stroke-width="0.65"/>
<line x1="66.39" y1="268.00" x2="66.39" y2="362.70" stroke="#c6c6c6" stroke-width="0.65"/>
<line x1="99.55" y1="268.00" x2="99.55" y2="362.70" stroke="#c6c6c6" stroke-width="0.65"/>
<line x1="132.71" y1="268.00" x2="132.71" y2="362.70" stroke="#c6c6c6" stroke-width="0.65"/>
<line x1="165.87" y1="268.00" x2="165.87" y2="362.70" stroke="#c6c6c6" stroke-width="0.65"/>
<line x1="26.60" y1="362.70" x2="172.50" y2="362.70" stroke="#c6c6c6" stroke-width="0.65"/>
<line x1="26.60" y1="343.76" x2="172.50" y2="343.76" stroke="#c6c6c6" stroke-width="0.65"/>
<line x1="26.60" y1="324.82" x2="172.50" y2="324.82" stroke="#c6c6c6" stroke-width="0.65"/>
<line x1="26.60" y1="305.88" x2="172.50" y2="305.88" stroke="#c6c6c6" stroke-width="0.65"/>
<line x1="26.60" y1="286.94" x2="172.50" y2="286.94" stroke="#c6c6c6" stroke-width="0.65"/>
<line x1="26.60" y1="268.00" x2="172.50" y2="268.00" stroke="#c6c6c6" stroke-width="0.65"/>
<polyline points="33.23,313.46 66.39,296.41 99.55,289.97 132.71,283.06 165.87,286.94" fill="none" stroke="#24a0d4" stroke-width="1.2" stroke-linejoin="round" stroke-linecap="butt" clip-path="url(#c26_268)"/>
<polyline points="33.23,315.07 66.39,305.88 99.55,303.04 132.71,312.89 165.87,320.08" fill="none" stroke="#ffa24c" stroke-width="1.2" stroke-linejoin="round" stroke-linecap="butt" clip-path="url(#c26_268)"/>
<rect x="26.60" y="268.00" width="145.90" height="94.70" fill="none" stroke="#9a9a9a" stroke-width="1.00"/>
<line x1="33.23" y1="362.70" x2="33.23" y2="364.30" stroke="#777777" stroke-width="0.60"/>
<text x="33.23" y="370.10" font-size="5.02" text-anchor="middle" textLength="2.80" lengthAdjust="spacingAndGlyphs" fill="#2a2a2a" stroke="#2a2a2a" stroke-width="0.12">1</text>
<line x1="66.39" y1="362.70" x2="66.39" y2="364.30" stroke="#777777" stroke-width="0.60"/>
<text x="66.39" y="370.10" font-size="5.02" text-anchor="middle" textLength="2.80" lengthAdjust="spacingAndGlyphs" fill="#2a2a2a" stroke="#2a2a2a" stroke-width="0.12">2</text>
<line x1="99.55" y1="362.70" x2="99.55" y2="364.30" stroke="#777777" stroke-width="0.60"/>
<text x="99.55" y="370.10" font-size="5.02" text-anchor="middle" textLength="2.80" lengthAdjust="spacingAndGlyphs" fill="#2a2a2a" stroke="#2a2a2a" stroke-width="0.12">3</text>
<line x1="132.71" y1="362.70" x2="132.71" y2="364.30" stroke="#777777" stroke-width="0.60"/>
<text x="132.71" y="370.10" font-size="5.02" text-anchor="middle" textLength="2.80" lengthAdjust="spacingAndGlyphs" fill="#2a2a2a" stroke="#2a2a2a" stroke-width="0.12">4</text>
<line x1="165.87" y1="362.70" x2="165.87" y2="364.30" stroke="#777777" stroke-width="0.60"/>
<text x="165.87" y="370.10" font-size="5.02" text-anchor="middle" textLength="2.80" lengthAdjust="spacingAndGlyphs" fill="#2a2a2a" stroke="#2a2a2a" stroke-width="0.12">5</text>
<line x1="25.00" y1="362.70" x2="26.60" y2="362.70" stroke="#777777" stroke-width="0.60"/>
<text x="23.70" y="365.00" font-size="5.02" text-anchor="end" textLength="7.00" lengthAdjust="spacingAndGlyphs" fill="#2a2a2a" stroke="#2a2a2a" stroke-width="0.12">0.0</text>
<line x1="25.00" y1="343.76" x2="26.60" y2="343.76" stroke="#777777" stroke-width="0.60"/>
<text x="23.70" y="346.06" font-size="5.02" text-anchor="end" textLength="7.00" lengthAdjust="spacingAndGlyphs" fill="#2a2a2a" stroke="#2a2a2a" stroke-width="0.12">0.2</text>
<line x1="25.00" y1="324.82" x2="26.60" y2="324.82" stroke="#777777" stroke-width="0.60"/>
<text x="23.70" y="327.12" font-size="5.02" text-anchor="end" textLength="7.00" lengthAdjust="spacingAndGlyphs" fill="#2a2a2a" stroke="#2a2a2a" stroke-width="0.12">0.4</text>
<line x1="25.00" y1="305.88" x2="26.60" y2="305.88" stroke="#777777" stroke-width="0.60"/>
<text x="23.70" y="308.18" font-size="5.02" text-anchor="end" textLength="7.00" lengthAdjust="spacingAndGlyphs" fill="#2a2a2a" stroke="#2a2a2a" stroke-width="0.12">0.6</text>
<line x1="25.00" y1="286.94" x2="26.60" y2="286.94" stroke="#777777" stroke-width="0.60"/>
<text x="23.70" y="289.24" font-size="5.02" text-anchor="end" textLength="7.00" lengthAdjust="spacingAndGlyphs" fill="#2a2a2a" stroke="#2a2a2a" stroke-width="0.12">0.8</text>
<line x1="25.00" y1="268.00" x2="26.60" y2="268.00" stroke="#777777" stroke-width="0.60"/>
<text x="23.70" y="270.30" font-size="5.02" text-anchor="end" textLength="7.00" lengthAdjust="spacingAndGlyphs" fill="#2a2a2a" stroke="#2a2a2a" stroke-width="0.12">1.0</text>
<text x="99.55" y="266.10" font-size="6.08" text-anchor="middle" textLength="51.08" lengthAdjust="spacingAndGlyphs" fill="#2a2a2a" stroke="#2a2a2a" stroke-width="0.11">MobileNet Accuracy</text>
<text x="99.55" y="375.70" font-size="5.02" text-anchor="middle" textLength="13.47" lengthAdjust="spacingAndGlyphs" fill="#2a2a2a" stroke="#2a2a2a" stroke-width="0.12">Epoch</text>
<text x="13.10" y="316.05" font-size="4.79" text-anchor="middle" textLength="19.17" lengthAdjust="spacingAndGlyphs" fill="#2a2a2a" stroke="#2a2a2a" stroke-width="0.12" transform="rotate(-90 13.10 316.05)">Accuracy</text>
<rect x="28.70" y="269.40" width="26.00" height="15.30" rx="0.8" fill="#ffffff" fill-opacity="0.8" stroke="#dcdcdc" stroke-width="0.5"/>
<line x1="30.20" y1="274.20" x2="39.40" y2="274.20" stroke="#24a0d4" stroke-width="1.20"/>
<line x1="30.20" y1="280.60" x2="39.40" y2="280.60" stroke="#ffa24c" stroke-width="1.20"/>
<text x="43.20" y="276.00" font-size="4.79" text-anchor="start" textLength="10.08" lengthAdjust="spacingAndGlyphs" fill="#2a2a2a" stroke="#2a2a2a" stroke-width="0.12">Train</text>
<text x="43.00" y="282.40" font-size="4.79" text-anchor="start" textLength="10.12" lengthAdjust="spacingAndGlyphs" fill="#2a2a2a" stroke="#2a2a2a" stroke-width="0.12">Valid</text>
<clipPath id="c215_268"><rect x="215.40" y="268.00" width="146.40" height="94.70"/></clipPath>
<line x1="222.05" y1="268.00" x2="222.05" y2="362.70" stroke="#c6c6c6" stroke-width="0.65"/>
<line x1="255.33" y1="268.00" x2="255.33" y2="362.70" stroke="#c6c6c6" stroke-width="0.65"/>
<line x1="288.60" y1="268.00" x2="288.60" y2="362.70" stroke="#c6c6c6" stroke-width="0.65"/>
<line x1="321.87" y1="268.00" x2="321.87" y2="362.70" stroke="#c6c6c6" stroke-width="0.65"/>
<line x1="355.15" y1="268.00" x2="355.15" y2="362.70" stroke="#c6c6c6" stroke-width="0.65"/>
<line x1="215.40" y1="362.70" x2="361.80" y2="362.70" stroke="#c6c6c6" stroke-width="0.65"/>
<line x1="215.40" y1="343.76" x2="361.80" y2="343.76" stroke="#c6c6c6" stroke-width="0.65"/>
<line x1="215.40" y1="324.82" x2="361.80" y2="324.82" stroke="#c6c6c6" stroke-width="0.65"/>
<line x1="215.40" y1="305.88" x2="361.80" y2="305.88" stroke="#c6c6c6" stroke-width="0.65"/>
<line x1="215.40" y1="286.94" x2="361.80" y2="286.94" stroke="#c6c6c6" stroke-width="0.65"/>
<line x1="215.40" y1="268.00" x2="361.80" y2="268.00" stroke="#c6c6c6" stroke-width="0.65"/>
<polyline points="222.05,298.59 255.33,312.32 288.60,320.08 321.87,326.43 355.15,320.08" fill="none" stroke="#24a0d4" stroke-width="1.2" stroke-linejoin="round" stroke-linecap="butt" clip-path="url(#c215_268)"/>
<polyline points="222.05,296.69 255.33,297.64 288.60,298.49 321.87,296.41 355.15,292.72" fill="none" stroke="#ffa24c" stroke-width="1.2" stroke-linejoin="round" stroke-linecap="butt" clip-path="url(#c215_268)"/>
<rect x="215.40" y="268.00" width="146.40" height="94.70" fill="none" stroke="#9a9a9a" stroke-width="1.00"/>
<line x1="222.05" y1="362.70" x2="222.05" y2="364.30" stroke="#777777" stroke-width="0.60"/>
<text x="222.05" y="370.10" font-size="5.02" text-anchor="middle" textLength="2.80" lengthAdjust="spacingAndGlyphs" fill="#2a2a2a" stroke="#2a2a2a" stroke-width="0.12">1</text>
<line x1="255.33" y1="362.70" x2="255.33" y2="364.30" stroke="#777777" stroke-width="0.60"/>
<text x="255.33" y="370.10" font-size="5.02" text-anchor="middle" textLength="2.80" lengthAdjust="spacingAndGlyphs" fill="#2a2a2a" stroke="#2a2a2a" stroke-width="0.12">2</text>
<line x1="288.60" y1="362.70" x2="288.60" y2="364.30" stroke="#777777" stroke-width="0.60"/>
<text x="288.60" y="370.10" font-size="5.02" text-anchor="middle" textLength="2.80" lengthAdjust="spacingAndGlyphs" fill="#2a2a2a" stroke="#2a2a2a" stroke-width="0.12">3</text>
<line x1="321.87" y1="362.70" x2="321.87" y2="364.30" stroke="#777777" stroke-width="0.60"/>
<text x="321.87" y="370.10" font-size="5.02" text-anchor="middle" textLength="2.80" lengthAdjust="spacingAndGlyphs" fill="#2a2a2a" stroke="#2a2a2a" stroke-width="0.12">4</text>
<line x1="355.15" y1="362.70" x2="355.15" y2="364.30" stroke="#777777" stroke-width="0.60"/>
<text x="355.15" y="370.10" font-size="5.02" text-anchor="middle" textLength="2.80" lengthAdjust="spacingAndGlyphs" fill="#2a2a2a" stroke="#2a2a2a" stroke-width="0.12">5</text>
<line x1="213.80" y1="362.70" x2="215.40" y2="362.70" stroke="#777777" stroke-width="0.60"/>
<text x="212.50" y="365.00" font-size="5.02" text-anchor="end" textLength="7.00" lengthAdjust="spacingAndGlyphs" fill="#2a2a2a" stroke="#2a2a2a" stroke-width="0.12">0.0</text>
<line x1="213.80" y1="343.76" x2="215.40" y2="343.76" stroke="#777777" stroke-width="0.60"/>
<text x="212.50" y="346.06" font-size="5.02" text-anchor="end" textLength="7.00" lengthAdjust="spacingAndGlyphs" fill="#2a2a2a" stroke="#2a2a2a" stroke-width="0.12">0.2</text>
<line x1="213.80" y1="324.82" x2="215.40" y2="324.82" stroke="#777777" stroke-width="0.60"/>
<text x="212.50" y="327.12" font-size="5.02" text-anchor="end" textLength="7.00" lengthAdjust="spacingAndGlyphs" fill="#2a2a2a" stroke="#2a2a2a" stroke-width="0.12">0.4</text>
<line x1="213.80" y1="305.88" x2="215.40" y2="305.88" stroke="#777777" stroke-width="0.60"/>
<text x="212.50" y="308.18" font-size="5.02" text-anchor="end" textLength="7.00" lengthAdjust="spacingAndGlyphs" fill="#2a2a2a" stroke="#2a2a2a" stroke-width="0.12">0.6</text>
<line x1="213.80" y1="286.94" x2="215.40" y2="286.94" stroke="#777777" stroke-width="0.60"/>
<text x="212.50" y="289.24" font-size="5.02" text-anchor="end" textLength="7.00" lengthAdjust="spacingAndGlyphs" fill="#2a2a2a" stroke="#2a2a2a" stroke-width="0.12">0.8</text>
<line x1="213.80" y1="268.00" x2="215.40" y2="268.00" stroke="#777777" stroke-width="0.60"/>
<text x="212.50" y="270.30" font-size="5.02" text-anchor="end" textLength="7.00" lengthAdjust="spacingAndGlyphs" fill="#2a2a2a" stroke="#2a2a2a" stroke-width="0.12">1.0</text>
<text x="288.60" y="266.10" font-size="6.08" text-anchor="middle" textLength="38.87" lengthAdjust="spacingAndGlyphs" fill="#2a2a2a" stroke="#2a2a2a" stroke-width="0.11">MobileNet Loss</text>
<text x="288.60" y="375.70" font-size="5.02" text-anchor="middle" textLength="13.47" lengthAdjust="spacingAndGlyphs" fill="#2a2a2a" stroke="#2a2a2a" stroke-width="0.12">Epoch</text>
<text x="202.90" y="316.05" font-size="4.79" text-anchor="middle" textLength="9.21" lengthAdjust="spacingAndGlyphs" fill="#2a2a2a" stroke="#2a2a2a" stroke-width="0.12" transform="rotate(-90 202.90 316.05)">Loss</text>
<rect x="217.50" y="269.40" width="26.00" height="15.30" rx="0.8" fill="#ffffff" fill-opacity="0.8" stroke="#dcdcdc" stroke-width="0.5"/>
<line x1="219.00" y1="274.20" x2="228.20" y2="274.20" stroke="#24a0d4" stroke-width="1.20"/>
<line x1="219.00" y1="280.60" x2="228.20" y2="280.60" stroke="#ffa24c" stroke-width="1.20"/>
<text x="232.00" y="276.00" font-size="4.79" text-anchor="start" textLength="10.08" lengthAdjust="spacingAndGlyphs" fill="#2a2a2a" stroke="#2a2a2a" stroke-width="0.12">Train</text>
<text x="231.80" y="282.40" font-size="4.79" text-anchor="start" textLength="10.12" lengthAdjust="spacingAndGlyphs" fill="#2a2a2a" stroke="#2a2a2a" stroke-width="0.12">Valid</text>
<rect x="404.00" y="268.10" width="56.90" height="92.40" fill="#032e70"/>
<rect x="460.90" y="268.10" width="56.90" height="92.40" fill="#f6faff"/>
<text x="432.45" y="293.40" font-size="5.24" text-anchor="middle" textLength="8.78" lengthAdjust="spacingAndGlyphs" fill="#ffffff" stroke="#ffffff" stroke-width="0.05">100</text>
<text x="489.35" y="293.40" font-size="5.24" text-anchor="middle" textLength="2.93" lengthAdjust="spacingAndGlyphs" fill="#262626" stroke="#262626" stroke-width="0.05">0</text>
<text x="432.45" y="339.60" font-size="5.24" text-anchor="middle" textLength="8.78" lengthAdjust="spacingAndGlyphs" fill="#ffffff" stroke="#ffffff" stroke-width="0.05">100</text>
<text x="489.35" y="339.60" font-size="5.24" text-anchor="middle" textLength="2.93" lengthAdjust="spacingAndGlyphs" fill="#262626" stroke="#262626" stroke-width="0.05">0</text>
<text x="460.90" y="265.75" font-size="5.96" text-anchor="middle" textLength="42.44" lengthAdjust="spacingAndGlyphs" fill="#2a2a2a" stroke="#2a2a2a" stroke-width="0.16">confusion matrix</text>
<text x="432.45" y="368.30" font-size="5.13" text-anchor="middle" textLength="6.49" lengthAdjust="spacingAndGlyphs" fill="#2a2a2a" stroke="#2a2a2a" stroke-width="0.20">OK</text>
<text x="489.35" y="368.30" font-size="5.13" text-anchor="middle" textLength="6.85" lengthAdjust="spacingAndGlyphs" fill="#2a2a2a" stroke="#2a2a2a" stroke-width="0.20">NG</text>
<text x="460.90" y="375.30" font-size="6.03" text-anchor="middle" textLength="32.14" lengthAdjust="spacingAndGlyphs" fill="#2a2a2a" stroke="#2a2a2a" stroke-width="0.08">Predict label</text>
<text x="398.80" y="291.70" font-size="5.13" text-anchor="middle" textLength="6.49" lengthAdjust="spacingAndGlyphs" fill="#2a2a2a" stroke="#2a2a2a" stroke-width="0.20" transform="rotate(-90 398.80 291.70)">OK</text>
<text x="398.80" y="337.90" font-size="5.13" text-anchor="middle" textLength="6.85" lengthAdjust="spacingAndGlyphs" fill="#2a2a2a" stroke="#2a2a2a" stroke-width="0.20" transform="rotate(-90 398.80 337.90)">NG</text>
<text x="392.80" y="315.00" font-size="6.03" text-anchor="middle" textLength="30.52" lengthAdjust="spacingAndGlyphs" fill="#2a2a2a" stroke="#2a2a2a" stroke-width="0.06" transform="rotate(-90 392.80 315.00)">Actual label</text>
<rect x="525.10" y="268.10" width="5.00" height="92.40" fill="url(#bluesg)"/>
<line x1="530.30" y1="361.10" x2="532.90" y2="361.10" stroke="#444444" stroke-width="0.60"/>
<text x="534.30" y="363.25" font-size="5.07" text-anchor="start" textLength="2.83" lengthAdjust="spacingAndGlyphs" fill="#2a2a2a" stroke="#2a2a2a" stroke-width="0.10">0</text>
<line x1="530.30" y1="342.62" x2="532.90" y2="342.62" stroke="#444444" stroke-width="0.60"/>
<text x="534.30" y="344.77" font-size="5.07" text-anchor="start" textLength="5.66" lengthAdjust="spacingAndGlyphs" fill="#2a2a2a" stroke="#2a2a2a" stroke-width="0.10">20</text>
<line x1="530.30" y1="324.14" x2="532.90" y2="324.14" stroke="#444444" stroke-width="0.60"/>
<text x="534.30" y="326.29" font-size="5.07" text-anchor="start" textLength="5.66" lengthAdjust="spacingAndGlyphs" fill="#2a2a2a" stroke="#2a2a2a" stroke-width="0.10">40</text>
<line x1="530.30" y1="305.66" x2="532.90" y2="305.66" stroke="#444444" stroke-width="0.60"/>
<text x="534.30" y="307.81" font-size="5.07" text-anchor="start" textLength="5.66" lengthAdjust="spacingAndGlyphs" fill="#2a2a2a" stroke="#2a2a2a" stroke-width="0.10">60</text>
<line x1="530.30" y1="287.18" x2="532.90" y2="287.18" stroke="#444444" stroke-width="0.60"/>
<text x="534.30" y="289.33" font-size="5.07" text-anchor="start" textLength="5.66" lengthAdjust="spacingAndGlyphs" fill="#2a2a2a" stroke="#2a2a2a" stroke-width="0.10">80</text>
<line x1="530.30" y1="268.70" x2="532.90" y2="268.70" stroke="#444444" stroke-width="0.60"/>
<text x="534.30" y="270.85" font-size="5.07" text-anchor="start" textLength="8.49" lengthAdjust="spacingAndGlyphs" fill="#2a2a2a" stroke="#2a2a2a" stroke-width="0.10">100</text>
</g>
</svg>
</body></html>
